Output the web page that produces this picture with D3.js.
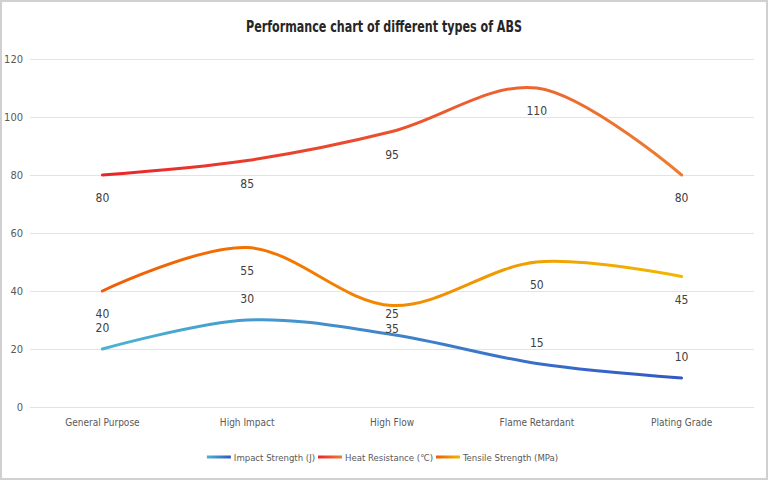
<!DOCTYPE html>
<html>
<head>
<meta charset="utf-8">
<script src="https://cdn.jsdelivr.net/npm/d3@7"></script>
<style>
  body { margin: 0; background: #fff; }
  text { font-family: "DejaVu Sans Condensed", sans-serif; }
</style>
</head>
<body>
<svg id="chart" width="768" height="480"></svg>
<script>
const categories = ["General Purpose", "High Impact", "High Flow", "Flame Retardant", "Plating Grade"];
const impactStrength = [20, 30, 25, 15, 10];
const heatResistance = [80, 85, 95, 110, 80];
const tensileStrength = [40, 55, 35, 50, 45];
const yTicks = [0, 20, 40, 60, 80, 100, 120];

const series = [
  {name: "Impact Strength (J)", values: impactStrength, from: "#4bb3d0", to: "#3357c4", labelDy: -17},
  {name: "Heat Resistance (\u2103)", values: heatResistance, from: "#e8262a", to: "#ed7d31", labelDy: 27},
  {name: "Tensile Strength (MPa)", values: tensileStrength, from: "#f25a05", to: "#f0b800", labelDy: 27}
];

const margin = {top: 59, right: 14, bottom: 73, left: 30};
const svg = d3.select('#chart');
const width = +svg.attr('width'), height = +svg.attr('height');
const w = width - margin.left - margin.right;
const h = height - margin.top - margin.bottom;

// outer frame
svg.append('rect')
  .attr('x', 1).attr('y', 1).attr('width', width - 2).attr('height', height - 2)
  .attr('fill', '#fff').attr('stroke', '#d0d0d0').attr('stroke-width', 2);

svg.append('text')
  .attr('x', width / 2).attr('y', 32)
  .attr('text-anchor', 'middle')
  .attr('font-size', 16).attr('font-weight', 'bold').attr('fill', '#262626')
  .attr('textLength', 276).attr('lengthAdjust', 'spacingAndGlyphs')
  .text('Performance chart of different types of ABS');

const g = svg.append('g').attr('transform', `translate(${margin.left},${margin.top})`);

const x = d3.scaleBand().domain(categories).range([0, w]);
const y = d3.scaleLinear().domain([0, 120]).range([h, 0]);

// grid + y labels
const yAxis = g.append('g').call(d3.axisLeft(y).tickValues(yTicks).tickSize(-w).tickPadding(7));
yAxis.select('.domain').remove();
yAxis.selectAll('.tick line').attr('stroke', '#e3e3e3');
yAxis.selectAll('.tick text').attr('fill', '#595959').attr('font-size', 11);

const xAxis = g.append('g').attr('transform', `translate(0,${h})`)
  .call(d3.axisBottom(x).tickSize(0).tickPadding(12));
xAxis.select('.domain').remove();
xAxis.selectAll('.tick text').attr('fill', '#595959').attr('font-size', 10);

const defs = svg.append('defs');
series.forEach((s, i) => {
  const grad = defs.append('linearGradient')
    .attr('id', 'grad' + i)
    .attr('gradientUnits', 'userSpaceOnUse')
    .attr('x1', x(categories[0]) + x.bandwidth() / 2).attr('x2', x(categories[4]) + x.bandwidth() / 2)
    .attr('y1', 0).attr('y2', 0);
  grad.append('stop').attr('offset', 0).attr('stop-color', s.from);
  grad.append('stop').attr('offset', 1).attr('stop-color', s.to);
});

const line = d3.line()
  .x((d, i) => x(categories[i]) + x.bandwidth() / 2)
  .y(d => y(d))
  .curve(d3.curveCatmullRom.alpha(0.5));

series.forEach((s, i) => {
  g.append('path')
    .datum(s.values)
    .attr('fill', 'none')
    .attr('stroke', `url(#grad${i})`)
    .attr('stroke-width', 3)
    .attr('stroke-linecap', 'round')
    .attr('d', line);
});

series.forEach(s => {
  g.selectAll(null).data(s.values).enter().append('text')
    .attr('x', (d, i) => x(categories[i]) + x.bandwidth() / 2)
    .attr('y', d => y(d) + s.labelDy)
    .attr('text-anchor', 'middle')
    .attr('font-size', 12).attr('fill', '#404040')
    .text(d => d);
});

// legend, laid out from measured text widths and centred
const lg = svg.append('g').attr('transform', 'translate(0,457)');
const items = series.map((s, i) => {
  const lgrad = defs.append('linearGradient').attr('id', 'lgrad' + i);
  lgrad.append('stop').attr('offset', 0).attr('stop-color', s.from);
  lgrad.append('stop').attr('offset', 1).attr('stop-color', s.to);
  const item = lg.append('g');
  item.append('rect')
    .attr('x', 0).attr('y', -1.5).attr('width', 24).attr('height', 3)
    .attr('fill', `url(#lgrad${i})`);
  const t = item.append('text')
    .attr('x', 27).attr('y', 4)
    .attr('font-size', 9.5).attr('fill', '#595959')
    .text(s.name);
  return {item, w: 27 + t.node().getComputedTextLength() + 3};
});
const total = d3.sum(items, d => d.w);
let cx = 384 - total / 2;
items.forEach(d => { d.item.attr('transform', `translate(${cx},0)`); cx += d.w; });
</script>
</body>
</html>
